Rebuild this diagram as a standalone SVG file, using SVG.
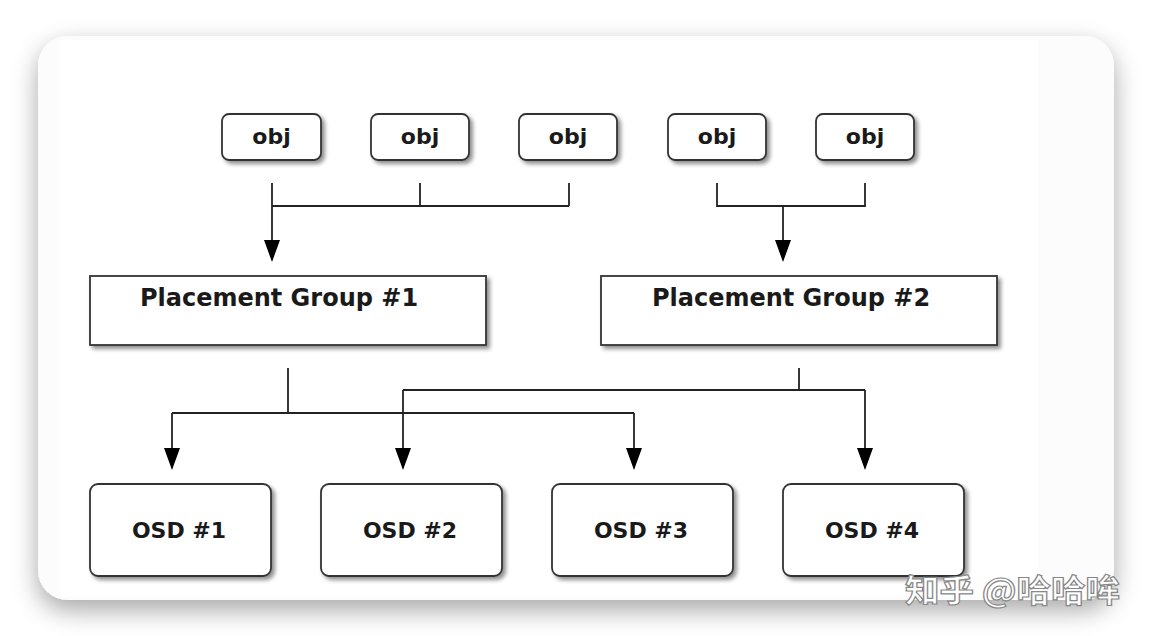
<svg xmlns="http://www.w3.org/2000/svg" width="1150" height="636" viewBox="0 0 1150 636">
<defs>
<filter id="cardShadow" x="-10%" y="-10%" width="120%" height="130%">
<feGaussianBlur in="SourceAlpha" stdDeviation="13"/>
<feOffset dx="0" dy="10" result="b"/>
<feComponentTransfer><feFuncA type="linear" slope="0.35"/></feComponentTransfer>
<feMerge><feMergeNode/><feMergeNode in="SourceGraphic"/></feMerge>
</filter>
<filter id="boxShadow" x="-10%" y="-10%" width="130%" height="140%">
<feGaussianBlur in="SourceAlpha" stdDeviation="2"/>
<feOffset dx="3" dy="3" result="b"/>
<feComponentTransfer><feFuncA type="linear" slope="0.45"/></feComponentTransfer>
<feMerge><feMergeNode/><feMergeNode in="SourceGraphic"/></feMerge>
</filter>
<style>
.box{fill:#fff;stroke:#333;stroke-width:1.8;filter:url(#boxShadow)}
.lbl{font-family:"DejaVu Sans","Liberation Sans",sans-serif;font-weight:bold;fill:#1a1a1a;text-anchor:middle}
.obj{font-size:22px}
.pg{font-size:24px}
.osd{font-size:22px}
.conn{fill:none;stroke:#222;stroke-width:1.8}
.head{fill:#000}
.wm{font-family:"Noto Sans CJK SC","Noto Sans",sans-serif;font-size:32px;fill:#fff;stroke:#888;stroke-width:1.2;font-weight:bold}
</style>
</defs>
<rect x="0" y="0" width="1150" height="636" fill="#fff"/>
<rect x="38" y="36" width="1076" height="564" rx="30" ry="30" fill="#fcfcfc" filter="url(#cardShadow)"/>
<rect x="60" y="40" width="978" height="556" fill="#fff"/>

<g id="connectors">
<path class="conn" d="M272,183 V260"/>
<path class="conn" d="M272,206 H569 M420,183 V206 M569,183 V206"/>
<path class="conn" d="M717,183 V206 H865 V183"/>
<path class="conn" d="M783,206 V260"/>
<path class="conn" d="M288,368 V413 M172,413 H634"/>
<path class="conn" d="M172,413 V468"/>
<path class="conn" d="M634,413 V468"/>
<path class="conn" d="M799,368 V390 M403,390 H865"/>
<path class="conn" d="M403,390 V468"/>
<path class="conn" d="M865,390 V468"/>
<path class="head" d="M264,240 H280 L272,262 Z M775,240 H791 L783,262 Z M164,448 H180 L172,470 Z M626,448 H642 L634,470 Z M395,448 H411 L403,470 Z M857,448 H873 L865,470 Z"/>
</g>

<g id="obj1"><rect class="box" x="222" y="114" width="99" height="46" rx="7"/><text class="lbl obj" x="271.5" y="144">obj</text></g>
<g id="obj2"><rect class="box" x="371" y="114" width="98" height="46" rx="7"/><text class="lbl obj" x="420" y="144">obj</text></g>
<g id="obj3"><rect class="box" x="519" y="114" width="98" height="46" rx="7"/><text class="lbl obj" x="568" y="144">obj</text></g>
<g id="obj4"><rect class="box" x="668" y="114" width="98" height="46" rx="7"/><text class="lbl obj" x="717" y="144">obj</text></g>
<g id="obj5"><rect class="box" x="816" y="114" width="98" height="46" rx="7"/><text class="lbl obj" x="865" y="144">obj</text></g>

<g id="pg1"><rect class="box" x="90" y="276" width="396" height="69"/><text class="lbl pg" x="279" y="306">Placement Group #1</text></g>
<g id="pg2"><rect class="box" x="601" y="276" width="396" height="69"/><text class="lbl pg" x="791" y="306">Placement Group #2</text></g>

<g id="osd1"><rect class="box" x="90" y="484" width="181" height="92" rx="8"/><text class="lbl osd" x="179" y="538">OSD #1</text></g>
<g id="osd2"><rect class="box" x="321" y="484" width="181" height="92" rx="8"/><text class="lbl osd" x="410" y="538">OSD #2</text></g>
<g id="osd3"><rect class="box" x="552" y="484" width="181" height="92" rx="8"/><text class="lbl osd" x="641" y="538">OSD #3</text></g>
<g id="osd4"><rect class="box" x="783" y="484" width="181" height="92" rx="8"/><text class="lbl osd" x="872" y="538">OSD #4</text></g>

<text class="wm" x="905" y="602" textLength="215" lengthAdjust="spacingAndGlyphs">知乎 @哈哈哞</text>
</svg>
